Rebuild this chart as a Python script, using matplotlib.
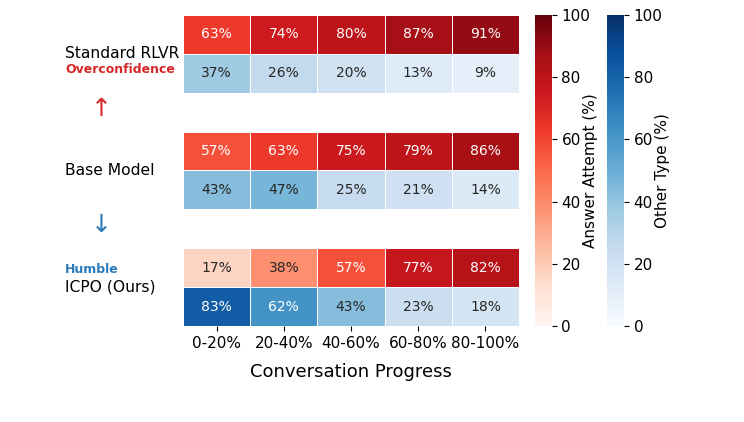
import numpy as np
import matplotlib
matplotlib.use("Agg")
import matplotlib.pyplot as plt
import matplotlib.transforms as mtransforms
import seaborn as sns

# conversation progress bins
stages = ["0-20%", "20-40%", "40-60%", "60-80%", "80-100%"]
models = ["Standard RLVR", "Base Model", "ICPO (Ours)"]

# answer attempt share per model (%)
answer_rlvr = [63, 74, 80, 87, 91]
answer_base = [57, 63, 75, 79, 86]
answer_icpo = [17, 38, 57, 77, 82]

# other type share per model (%)
other_rlvr = [37, 26, 20, 13, 9]
other_base = [43, 47, 25, 21, 14]
other_icpo = [83, 62, 43, 23, 18]


def main():
    gap = [np.nan] * len(stages)
    # 8 rows: answer, other, gap, answer, other, gap, answer, other
    red = np.array([answer_rlvr, gap, gap, answer_base, gap, gap, answer_icpo, gap], dtype=float)
    blue = np.array([gap, other_rlvr, gap, gap, other_base, gap, gap, other_icpo], dtype=float)

    red_lab = np.where(np.isnan(red), "", np.char.add(np.nan_to_num(red).astype(int).astype(str), "%"))
    blue_lab = np.where(np.isnan(blue), "", np.char.add(np.nan_to_num(blue).astype(int).astype(str), "%"))

    fig = plt.figure(figsize=(7.44, 4.22), dpi=100)
    ax = fig.add_axes([0.246, 0.2275, 0.4516, 0.737])
    cax_r = fig.add_axes([0.719, 0.2275, 0.0225, 0.737])
    cax_b = fig.add_axes([0.816, 0.2275, 0.0225, 0.737])

    sns.heatmap(red, ax=ax, cmap="Reds", vmin=0, vmax=100, annot=red_lab, fmt="",
                annot_kws={"fontsize": 10}, linewidths=0.4, linecolor="white",
                cbar_ax=cax_r, cbar_kws={"label": "Answer Attempt (%)"})
    sns.heatmap(blue, ax=ax, cmap="Blues", vmin=0, vmax=100, annot=blue_lab, fmt="",
                annot_kws={"fontsize": 10}, linewidths=0.4, linecolor="white",
                cbar_ax=cax_b, cbar_kws={"label": "Other Type (%)"})

    for cax in (cax_r, cax_b):
        cax.tick_params(labelsize=11)
        cax.set_yticks([0, 20, 40, 60, 80, 100])
        cax.set_ylabel(cax.get_ylabel(), fontsize=11, labelpad=-5.5)

    ax.set_xticks(np.arange(len(stages)) + 0.5)
    ax.set_xticklabels(stages, fontsize=11, rotation=0)
    ax.set_xlabel("Conversation Progress", fontsize=13, labelpad=9)
    ax.set_yticks([])

    tr = mtransforms.blended_transform_factory(fig.transFigure, ax.transData)
    x0 = 65 / 744
    for name, y in zip(models, [1, 4, 7]):
        ax.text(x0, y, name, transform=tr, fontsize=11.2, ha="left", va="center")
    ax.text(x0, 1.40, "Overconfidence", transform=tr, fontsize=9, fontweight="bold",
            color="#d62728", ha="left", va="center")
    ax.text(x0, 6.55, "Humble", transform=tr, fontsize=9, fontweight="bold",
            color="#2b7bba", ha="left", va="center")
    ax.text(101 / 744, 2.42, "\u2191", transform=tr, fontsize=18, color="#d62728",
            ha="center", va="center")
    ax.text(101 / 744, 5.40, "\u2193", transform=tr, fontsize=18, color="#2b7bba",
            ha="center", va="center")

    fig.savefig("out.png", dpi=100)


if __name__ == "__main__":
    main()
